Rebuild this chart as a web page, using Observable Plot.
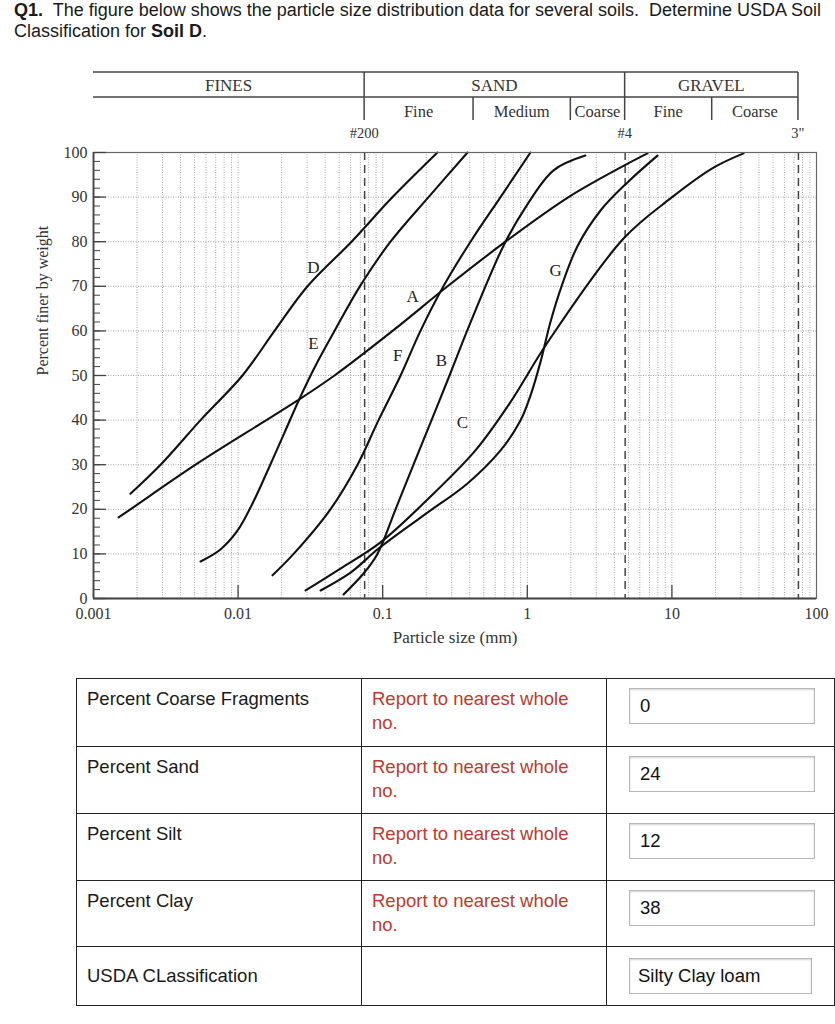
<!DOCTYPE html>
<html>
<head>
<meta charset="utf-8">
<script src="https://cdn.jsdelivr.net/npm/d3@7"></script>
<script src="https://cdn.jsdelivr.net/npm/@observablehq/plot@0.6"></script>
<style>
  html, body { margin: 0; padding: 0; background: #fff; }
  body { width: 835px; height: 1024px; position: relative; overflow: hidden; font-family: "Liberation Sans", Arial, sans-serif; color: #1a1a1a; }
  #q { position: absolute; left: 14px; top: 0; width: 821px; font-size: 18px; line-height: 21px; white-space: nowrap; overflow: hidden; }
  #chart { position: absolute; left: 0; top: 60px; }
  #tbl { position: absolute; left: 76px; top: 678px; width: 758px; border-collapse: collapse; table-layout: fixed; }
  #tbl td { border: 1.5px solid #222; font-size: 18.5px; line-height: 24px; vertical-align: top; padding: 8px 0 0 10px; }
  #tbl td.note { color: #c0392b; }
  #tbl td.val { padding: 0 0 0 22px; }
  #tbl tr.last td { vertical-align: middle; padding-top: 0; }
  .box { margin-top: 9px; width: 174px; height: 34px; border: 1px solid #b8b8b8; box-shadow: inset 0 1px 2px rgba(0,0,0,0.18); font-size: 18.5px; line-height: 34px; padding-left: 10px; box-sizing: content-box; color: #111; }
  #tbl tr.last .box { margin-top: 0; width: 173px; padding-left: 8px; }
</style>
</head>
<body>
<div id="q"><b>Q1.</b>&nbsp; The figure below shows the particle size distribution data for several soils.&nbsp; Determine USDA Soil<br>Classification for <b>Soil D</b>.</div>
<div id="chart"></div>
<table id="tbl"></table>
<script>
// ---------- Data ----------
const soilNames = ["A", "B", "C", "D", "E", "F", "G"];

const soilA_size = [0.00149, 0.0018, 0.00508, 0.0157, 0.0258, 0.0464, 0.117, 0.281, 0.706, 1.93, 4.63, 6.78];
const soilA_pct  = [18.2, 20, 30, 40, 44.4, 50, 60, 70, 80, 90, 97, 99.8];

const soilB_size = [0.0536, 0.0737, 0.092, 0.1227, 0.1633, 0.2177, 0.2898, 0.405, 0.685, 0.972, 1.52, 2.52];
const soilB_pct  = [0.9, 5.6, 10, 20, 30, 40, 50, 61.9, 79.1, 87.7, 96, 99.3];

const soilC_size = [0.0293, 0.051, 0.0966, 0.191, 0.438, 0.753, 1.38, 4.63, 9.78, 19.4, 31.3];
const soilC_pct  = [1.8, 6.7, 12.6, 21.3, 33.2, 43.7, 57.4, 80.7, 89.7, 96.6, 99.8];

const soilD_size = [0.0018, 0.00291, 0.0055, 0.01072, 0.01786, 0.0302, 0.0609, 0.117, 0.239];
const soilD_pct  = [23.5, 30, 40, 50, 60, 70, 80, 90, 100];

const soilE_size = [0.0055, 0.00755, 0.0099, 0.01258, 0.01623, 0.02094, 0.02659, 0.03429, 0.04792, 0.07023, 0.1132, 0.2075, 0.386];
const soilE_pct  = [8.3, 11.0, 15.2, 21.3, 29.1, 37.2, 44.8, 52.2, 60.8, 70.2, 80, 90, 100];

const soilF_size = [0.0173, 0.0242, 0.0435, 0.067, 0.0936, 0.133, 0.1825, 0.263, 0.405, 0.653, 1.052];
const soilF_pct  = [5.2, 10, 20, 30, 40, 50, 60, 70, 80, 90, 100];

const soilG_size = [0.0372, 0.0599, 0.0936, 0.191, 0.386, 0.653, 0.897, 1.052, 1.233, 1.446, 1.725, 2.223, 3.21, 4.93, 7.95];
const soilG_pct  = [1.8, 5.8, 11.2, 18.6, 25.8, 33.2, 39.9, 45.5, 53, 62, 70, 79, 87, 93.3, 99.3];

// curve label anchors (data units)
const labelSoil = ["A", "B", "C", "D", "E", "F", "G"];
const labelSize = [0.161, 0.255, 0.356, 0.0332, 0.0332, 0.127, 1.57];
const labelPct  = [67.7, 53.4, 39.5, 74.2, 57.2, 54.5, 73.5];

// sieve lines
const sieveSize  = [0.075, 4.75, 75];
const sieveLabel = ["#200", "#4", "3\""];

// header classification bands
const groupName  = ["FINES", "SAND", "GRAVEL"];
const groupFrom  = [0.001, 0.075, 4.75];
const groupTo    = [0.075, 4.75, 75];
const subName    = ["Fine", "Medium", "Coarse", "Fine", "Coarse"];
const subFrom    = [0.075, 0.425, 2.0, 4.75, 19];
const subTo      = [0.425, 2.0, 4.75, 19, 75];

// axis ticks
const xTickValues = [0.001, 0.01, 0.1, 1, 10, 100];
const xTickLabels = ["0.001", "0.01", "0.1", "1", "10", "100"];
const yMajor = [0, 10, 20, 30, 40, 50, 60, 70, 80, 90, 100];
const yMinor = d3.range(0, 101, 2);
const xGrid = [];
[0.001, 0.01, 0.1, 1, 10].forEach(dec => { for (let k = 1; k <= 9; k++) xGrid.push(dec * k); });
const yGrid = [10, 20, 30, 40, 50, 60, 70, 80, 90];

// table
const tableLabels = ["Percent Coarse Fragments", "Percent Sand", "Percent Silt", "Percent Clay", "USDA CLassification"];
const tableNotes  = ["Report to nearest whole", "Report to nearest whole", "Report to nearest whole", "Report to nearest whole", ""];
const tableValues = ["0", "24", "12", "38", "Silty Clay loam"];

// ---------- Build rows ----------
const sizes = {A: soilA_size, B: soilB_size, C: soilC_size, D: soilD_size, E: soilE_size, F: soilF_size, G: soilG_size};
const pcts  = {A: soilA_pct,  B: soilB_pct,  C: soilC_pct,  D: soilD_pct,  E: soilE_pct,  F: soilF_pct,  G: soilG_pct};
const rows = soilNames.flatMap(s => sizes[s].map((v, i) => ({soil: s, size: v, pct: pcts[s][i]})));
const labels = labelSoil.map((s, i) => ({soil: s, size: labelSize[i], pct: labelPct[i]}));
const sieves = sieveSize.map((v, i) => ({size: v, label: sieveLabel[i]}));

const serif = '"Liberation Serif", "Times New Roman", serif';
const W = 835, H = 590, mL = 93, mR = 19, mT = 92, mB = 52;
const fw = W - mL - mR, fh = H - mT - mB;

const chart = Plot.plot({
  width: W, height: H,
  marginLeft: mL, marginRight: mR, marginTop: mT, marginBottom: mB,
  x: {type: "log", domain: [0.001, 100]},
  y: {domain: [0, 100]},
  style: {fontFamily: serif, fontSize: "16px", color: "#333", background: "transparent", overflow: "visible"},
  marks: [
    Plot.ruleX(xGrid, {stroke: "#a8a8a8", strokeDasharray: "1,1.5", strokeWidth: 1}),
    Plot.ruleY(yGrid, {stroke: "#a8a8a8", strokeDasharray: "1,1.5", strokeWidth: 1}),
    Plot.ruleX(sieves, {x: "size", stroke: "#444", strokeWidth: 1.5, strokeDasharray: "8,5"}),
    Plot.line(rows, {x: "size", y: "pct", z: "soil", curve: "catmull-rom", stroke: "#111", strokeWidth: 2.1}),
    Plot.text(labels, {x: "size", y: "pct", text: "soil", fontSize: 17, fill: "#222", fontFamily: serif}),
    Plot.frame({stroke: "#666", strokeWidth: 1.2}),
    Plot.ruleX([0.001], {stroke: "#444", strokeWidth: 1.8}),
    Plot.ruleY([0], {stroke: "#444", strokeWidth: 1.8}),
    Plot.tickY(yMajor, {y: d => d, stroke: "#444", strokeWidth: 1.3, insetRight: fw - 13}),
    Plot.tickY(yMinor, {y: d => d, stroke: "#444", strokeWidth: 1, insetRight: fw - 7}),
    Plot.tickX([0.01, 0.1, 1, 10], {x: d => d, stroke: "#444", strokeWidth: 1.3, insetTop: fh - 13}),
    Plot.axisY({ticks: yMajor, tickSize: 0, tickPadding: 6, label: null, fontSize: 16}),
    Plot.axisX({ticks: xTickValues, tickSize: 0, tickPadding: 9, label: null, fontSize: 16,
                tickFormat: d => xTickLabels[xTickValues.findIndex(v => Math.abs(v - d) < 1e-12)]}),
    Plot.text(["Percent finer by weight"], {frameAnchor: "left", rotate: -90, dx: -51, fontSize: 16, fill: "#333"}),
    Plot.text(["Particle size (mm)"], {frameAnchor: "bottom", dy: 44, fontSize: 17, fill: "#333"})
  ]
});
document.getElementById("chart").appendChild(chart);

// ---------- Classification header above the frame, placed with Plot's x scale ----------
const xs = chart.scale("x");
const px = v => xs.apply(v);
const svg = d3.select(chart);
const hdr = svg.append("g").attr("font-family", serif).attr("fill", "#333").attr("stroke-linecap", "butt");
const yTop = 12, yMid = 37, yBot = 60;
const xLeft = mL, xRight = px(75);
hdr.append("line").attr("x1", xLeft).attr("x2", xRight).attr("y1", yTop).attr("y2", yTop).attr("stroke", "#444").attr("stroke-width", 1.5);
hdr.append("line").attr("x1", xLeft).attr("x2", xRight).attr("y1", yMid).attr("y2", yMid).attr("stroke", "#444").attr("stroke-width", 1.5);
sieveSize.forEach(v => {
  hdr.append("line").attr("x1", px(v)).attr("x2", px(v)).attr("y1", yTop).attr("y2", yBot).attr("stroke", "#444").attr("stroke-width", 1.5);
});
[0.425, 2.0, 19].forEach(v => {
  hdr.append("line").attr("x1", px(v)).attr("x2", px(v)).attr("y1", yMid).attr("y2", yBot).attr("stroke", "#444").attr("stroke-width", 1.5);
});
groupName.forEach((n, i) => {
  const cx = (Math.max(px(groupFrom[i]), xLeft) + px(groupTo[i])) / 2;
  hdr.append("text").attr("x", cx).attr("y", 25).attr("dy", "0.35em").attr("text-anchor", "middle").attr("font-size", 17).text(n);
});
subName.forEach((n, i) => {
  const cx = (px(subFrom[i]) + px(subTo[i])) / 2;
  hdr.append("text").attr("x", cx).attr("y", 51).attr("dy", "0.35em").attr("text-anchor", "middle").attr("font-size", 16.5).text(n);
});
sieves.forEach(s => {
  hdr.append("text").attr("x", px(s.size)).attr("y", 73).attr("dy", "0.35em").attr("text-anchor", "middle").attr("font-size", 14.5).text(s.label);
});

// ---------- Table ----------
const rowHeights = [68, 67, 67, 66, 59];
const tbl = d3.select("#tbl");
const cg = tbl.append("colgroup");
[285, 245, 228].forEach(w => cg.append("col").style("width", w + "px"));
tableLabels.forEach((lab, i) => {
  const tr = tbl.append("tr").style("height", rowHeights[i] + "px").classed("last", i === tableLabels.length - 1);
  tr.append("td").text(lab);
  const n = tr.append("td").attr("class", "note");
  if (tableNotes[i]) { n.append("span").text(tableNotes[i]); n.append("br"); n.append("span").text("no."); }
  tr.append("td").attr("class", "val").append("div").attr("class", "box").text(tableValues[i]);
});
</script>
</body>
</html>
